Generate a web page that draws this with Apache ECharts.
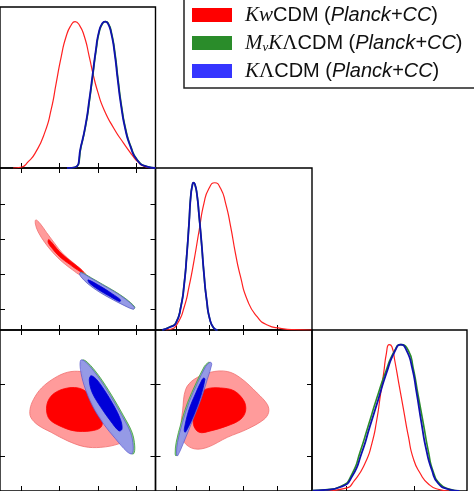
<!DOCTYPE html>
<html>
<head>
<meta charset="utf-8">
<script src="https://cdn.jsdelivr.net/npm/echarts@6/dist/echarts.min.js"></script>
<style>
html, body { margin: 0; padding: 0; background: #fff; }
#chart { width: 474px; height: 491px; }
</style>
</head>
<body>
<div id="chart"></div>
<script>
// model names (legend order)
const models = ['KwCDM', 'MvKLCDM', 'KLCDM'];

// tick values of the three parameters (labels are cropped away in the picture)
const ticksA = [0, 1, 2, 3];
const ticksB = [0, 1, 2, 3];
const ticksC = [0, 1];

// 1D posteriors, parameter A
const redA = [[-0.2, 0], [0, 0.005], [0.2, 0.045], [0.37, 0.10], [0.62, 0.24], [0.79, 0.40], [0.92, 0.58], [1.05, 0.76], [1.18, 0.90], [1.31, 0.977], [1.41, 1.0], [1.52, 0.977], [1.65, 0.90], [1.78, 0.76], [1.88, 0.64], [2.0, 0.52], [2.16, 0.40], [2.42, 0.27], [2.67, 0.17], [2.89, 0.09], [3.05, 0.04], [3.2, 0.012], [3.35, 0.002], [3.5, 0]];
const greenA = [[1.2, 0], [1.42, 0.006], [1.57, 0.15], [1.70, 0.31], [1.79, 0.47], [1.87, 0.63], [1.96, 0.81], [2.04, 0.93], [2.13, 0.99], [2.20, 1.0], [2.27, 0.99], [2.36, 0.92], [2.45, 0.78], [2.53, 0.60], [2.62, 0.42], [2.73, 0.26], [2.86, 0.146], [3.03, 0.055], [3.28, 0.01], [3.5, 0]];
const blueA = [[1.2, 0], [1.41, 0.005], [1.56, 0.146], [1.69, 0.305], [1.78, 0.465], [1.86, 0.624], [1.95, 0.806], [2.03, 0.93], [2.12, 0.989], [2.19, 1.0], [2.26, 0.989], [2.35, 0.92], [2.44, 0.78], [2.52, 0.60], [2.61, 0.42], [2.72, 0.26], [2.85, 0.146], [3.02, 0.055], [3.27, 0.01], [3.5, 0]];

// 1D posteriors, parameter B
const redB = [[-0.3, 0], [-0.15, 0.005], [0.05, 0.045], [0.25, 0.158], [0.39, 0.294], [0.54, 0.475], [0.69, 0.679], [0.83, 0.860], [0.98, 0.962], [1.15, 1.0], [1.32, 0.962], [1.47, 0.860], [1.62, 0.701], [1.76, 0.521], [1.91, 0.362], [2.11, 0.204], [2.40, 0.090], [2.70, 0.034], [3.09, 0.011], [3.48, 0.002], [4.0, 0]];
const greenB = [[-0.4, 0], [-0.15, 0.024], [0, 0.048], [0.15, 0.162], [0.25, 0.322], [0.32, 0.502], [0.39, 0.728], [0.44, 0.907], [0.49, 0.986], [0.52, 1.0], [0.56, 0.99], [0.62, 0.926], [0.69, 0.766], [0.76, 0.586], [0.83, 0.382], [0.91, 0.202], [1.01, 0.067], [1.13, 0.011], [1.23, 0]];
const blueB = [[-0.4, 0], [-0.15, 0.022], [0, 0.045], [0.15, 0.158], [0.25, 0.317], [0.32, 0.498], [0.39, 0.724], [0.44, 0.905], [0.49, 0.985], [0.52, 1.0], [0.56, 0.991], [0.62, 0.928], [0.69, 0.769], [0.76, 0.589], [0.83, 0.385], [0.91, 0.204], [1.01, 0.068], [1.13, 0.011], [1.23, 0]];

// 1D posteriors, parameter C
const redC = [[-0.3, 0], [-0.01, 0.018], [0.13, 0.075], [0.28, 0.189], [0.38, 0.326], [0.45, 0.485], [0.50, 0.644], [0.55, 0.804], [0.59, 0.941], [0.63, 1.0], [0.67, 0.986], [0.71, 0.895], [0.77, 0.736], [0.84, 0.553], [0.91, 0.371], [0.98, 0.223], [1.08, 0.121], [1.20, 0.048], [1.34, 0.012], [1.5, 0]];
const greenC = [[-0.48, 0.003], [-0.30, 0.008], [-0.06, 0.034], [0.09, 0.116], [0.21, 0.269], [0.33, 0.451], [0.45, 0.633], [0.58, 0.815], [0.71, 0.959], [0.80, 1.0], [0.91, 0.959], [0.98, 0.838], [1.05, 0.656], [1.13, 0.451], [1.20, 0.269], [1.27, 0.132], [1.37, 0.048], [1.51, 0.012], [1.65, 0]];
const blueC = [[-0.48, 0.003], [-0.30, 0.007], [-0.06, 0.03], [0.09, 0.098], [0.23, 0.258], [0.35, 0.44], [0.47, 0.622], [0.59, 0.804], [0.71, 0.952], [0.80, 1.0], [0.88, 0.963], [0.96, 0.849], [1.03, 0.667], [1.10, 0.462], [1.17, 0.280], [1.25, 0.143], [1.34, 0.053], [1.49, 0.012], [1.65, 0]];

// 2D contours A-B (outer = 95%, inner = 68%)
const redAB95 = [[0.39, 2.54], [0.50, 2.44], [0.67, 2.18], [0.88, 1.87], [1.09, 1.58], [1.35, 1.33], [1.61, 1.09], [1.69, 0.98], [1.56, 0.96], [1.35, 1.11], [1.09, 1.33], [0.84, 1.60], [0.62, 1.90], [0.45, 2.20], [0.38, 2.42]];
const redAB68 = [[0.73, 1.98], [1.01, 1.63], [1.26, 1.39], [1.52, 1.17], [1.63, 1.04], [1.52, 1.08], [1.26, 1.28], [1.01, 1.49], [0.79, 1.76], [0.71, 1.90]];
const greenAB95 = [[1.57, 1.05], [1.83, 0.89], [2.13, 0.70], [2.43, 0.51], [2.73, 0.29], [2.96, 0.06], [2.93, 0.0], [2.64, 0.14], [2.34, 0.31], [2.04, 0.50], [1.76, 0.72], [1.57, 0.93], [1.54, 1.01]];
const blueAB95 = [[1.56, 1.04], [1.82, 0.88], [2.12, 0.69], [2.42, 0.50], [2.72, 0.28], [2.95, 0.05], [2.92, -0.01], [2.63, 0.13], [2.33, 0.30], [2.03, 0.49], [1.75, 0.71], [1.56, 0.92], [1.53, 1.00]];
const blueAB68 = [[1.75, 0.83], [2.08, 0.64], [2.38, 0.43], [2.59, 0.26], [2.57, 0.21], [2.33, 0.35], [2.03, 0.54], [1.78, 0.74]];

// 2D contours A-C
const redAC95 = [[0.24, 0.65], [0.33, 0.79], [0.54, 0.95], [0.88, 1.09], [1.22, 1.17], [1.56, 1.18], [1.78, 1.14], [1.99, 1.00], [2.25, 0.79], [2.51, 0.56], [2.67, 0.375], [2.72, 0.24], [2.55, 0.17], [2.08, 0.12], [1.65, 0.13], [1.22, 0.21], [0.79, 0.33], [0.45, 0.43], [0.26, 0.54]];
const redAC68 = [[0.67, 0.63], [0.71, 0.77], [0.88, 0.88], [1.22, 0.95], [1.56, 0.94], [1.82, 0.84], [2.03, 0.68], [2.12, 0.51], [2.08, 0.40], [1.82, 0.35], [1.39, 0.35], [1.01, 0.42], [0.75, 0.51]];
const greenAC95 = [[1.60, 1.34], [1.73, 1.31], [2.03, 1.12], [2.37, 0.84], [2.67, 0.56], [2.89, 0.33], [2.96, 0.14], [2.93, 0.03], [2.80, 0.06], [2.50, 0.24], [2.20, 0.44], [1.90, 0.70], [1.69, 0.98], [1.59, 1.21]];
const blueAC95 = [[1.56, 1.34], [1.69, 1.31], [1.99, 1.12], [2.33, 0.84], [2.63, 0.56], [2.85, 0.33], [2.92, 0.14], [2.89, 0.03], [2.76, 0.06], [2.46, 0.24], [2.16, 0.44], [1.86, 0.70], [1.65, 0.98], [1.55, 1.21]];
const blueAC68 = [[1.82, 1.12], [1.95, 1.08], [2.16, 0.93], [2.42, 0.70], [2.59, 0.51], [2.63, 0.375], [2.55, 0.35], [2.33, 0.49], [2.08, 0.68], [1.86, 0.88], [1.78, 1.05]];

// 2D contours B-C
const redBC95 = [[0.20, 0.63], [0.29, 0.93], [0.54, 1.07], [1.03, 1.17], [1.52, 1.18], [1.91, 1.09], [2.40, 0.88], [2.70, 0.72], [2.74, 0.61], [2.60, 0.51], [2.11, 0.375], [1.52, 0.26], [0.93, 0.12], [0.54, 0.10], [0.25, 0.19], [0.15, 0.375]];
const redBC68 = [[0.54, 0.70], [0.64, 0.86], [0.93, 0.94], [1.32, 0.95], [1.72, 0.91], [2.01, 0.77], [2.06, 0.63], [1.91, 0.51], [1.52, 0.42], [1.03, 0.35], [0.69, 0.33], [0.52, 0.44]];
const greenBC95 = [[0.99, 1.31], [1.02, 1.28], [0.89, 1.07], [0.70, 0.79], [0.45, 0.49], [0.21, 0.21], [0.01, 0.00], [-0.02, 0.03], [0.01, 0.19], [0.16, 0.47], [0.35, 0.75], [0.60, 1.02], [0.84, 1.25], [0.94, 1.30]];
const blueBC95 = [[1.03, 1.31], [1.06, 1.28], [0.93, 1.07], [0.74, 0.79], [0.49, 0.49], [0.25, 0.21], [0.05, 0.00], [0.02, 0.03], [0.05, 0.19], [0.20, 0.47], [0.39, 0.75], [0.64, 1.02], [0.88, 1.25], [0.98, 1.30]];
const blueBC68 = [[0.83, 1.09], [0.86, 1.07], [0.74, 0.84], [0.54, 0.58], [0.34, 0.375], [0.27, 0.33], [0.25, 0.375], [0.39, 0.65], [0.59, 0.88], [0.78, 1.07]];

const colors = {
    KwCDM: { line: '#ff2020', light: '#ff9b9b', lightEdge: '#f07070', dark: '#ff0000', swatch: '#ff0000' },
    MvKLCDM: { line: '#2a8c2a', light: '#8fcf8f', lightEdge: '#3c9c3c', dark: '#1f8f1f', swatch: '#2a8c2a' },
    KLCDM: { line: '#1010b0', light: '#9696ee', lightEdge: '#5a5acc', dark: '#0000d8', swatch: '#3535ff' }
};

const ranges = {
    A: [-0.54, 3.5],
    B: [-0.6, 4.02],
    C: [-0.49, 1.76],
    P: [0, 1.1]
};
const ticks = { A: ticksA, B: ticksB, C: ticksC, P: [] };

// panel layout in px
const cols = [{ left: -2, width: 157.5 }, { left: 155.5, width: 156.5 }, { left: 312, width: 155 }];
const rows = [{ top: 7, height: 161 }, { top: 168, height: 162 }, { top: 330, height: 162 }];

const panels = [
    { r: 0, c: 0, x: 'A', y: 'P', lines: [redA, greenA, blueA] },
    { r: 1, c: 0, x: 'A', y: 'B', contours: [[redAB95, redAB68], [greenAB95, null], [blueAB95, blueAB68]] },
    { r: 1, c: 1, x: 'B', y: 'P', lines: [redB, greenB, blueB] },
    { r: 2, c: 0, x: 'A', y: 'C', contours: [[redAC95, redAC68], [greenAC95, null], [blueAC95, blueAC68]] },
    { r: 2, c: 1, x: 'B', y: 'C', contours: [[redBC95, redBC68], [greenBC95, null], [blueBC95, blueBC68]] },
    { r: 2, c: 2, x: 'C', y: 'P', lines: [redC, greenC, blueC] }
];

const grid = [];
const xAxis = [];
const yAxis = [];
const series = [];

function makeAxis(gridIndex, key, position) {
    const tv = ticks[key];
    return {
        type: 'value',
        gridIndex,
        position,
        min: ranges[key][0],
        max: ranges[key][1],
        axisLine: { show: false, onZero: false },
        axisLabel: { show: false },
        splitLine: { show: false },
        axisTick: {
            show: tv.length > 0,
            inside: true,
            length: 5,
            customValues: tv,
            lineStyle: { color: '#000', width: 1 }
        }
    };
}

function polygonSeries(name, pts, xi, yi, fill, stroke, opacity) {
    return {
        name,
        type: 'custom',
        xAxisIndex: xi,
        yAxisIndex: yi,
        silent: true,
        clip: true,
        data: [[pts[0][0], pts[0][1]]],
        renderItem: (params, api) => ({
            type: 'polygon',
            shape: { points: pts.map(p => api.coord(p)), smooth: 0.35 },
            style: { fill, stroke, lineWidth: 0.8, opacity }
        })
    };
}

panels.forEach((p, gi) => {
    grid.push({
        left: cols[p.c].left,
        top: rows[p.r].top,
        width: cols[p.c].width,
        height: rows[p.r].height,
        show: true,
        borderColor: '#000',
        borderWidth: 1.4,
        backgroundColor: 'transparent'
    });
    const xi = xAxis.length;
    const yi = yAxis.length;
    xAxis.push(makeAxis(gi, p.x, 'bottom'));
    yAxis.push(makeAxis(gi, p.y, 'left'));
    if (p.contours) {
        // mirrored ticks on top and right
        xAxis.push(makeAxis(gi, p.x, 'top'));
        yAxis.push(makeAxis(gi, p.y, 'right'));
        p.contours.forEach(([outer, inner], k) => {
            const c = colors[models[k]];
            series.push(polygonSeries(models[k], outer, xi, yi, c.light, c.lightEdge, k === 2 ? 0.92 : 1));
            if (inner) {
                series.push(polygonSeries(models[k], inner, xi, yi, c.dark, c.dark, 1));
            }
        });
    } else {
        p.lines.forEach((pts, k) => {
            const c = colors[models[k]];
            series.push({
                name: models[k],
                type: 'line',
                xAxisIndex: xi,
                yAxisIndex: yi,
                data: pts,
                smooth: 0.6,
                symbol: 'none',
                silent: true,
                lineStyle: { color: c.line, width: k === 0 ? 1.2 : (k === 1 ? 1.6 : 1.8) },
                itemStyle: { color: c.line }
            });
        });
    }
});

const legendText = {
    KwCDM: '{mi|Kw}{s|CDM (}{i|Planck+CC}{s|)}',
    MvKLCDM: '{mi|M}{sub|ν}{mi|K}{mr|Λ}{s|CDM (}{i|Planck+CC}{s|)}',
    KLCDM: '{mi|K}{mr|Λ}{s|CDM (}{i|Planck+CC}{s|)}'
};

const chart = echarts.init(document.getElementById('chart'), null, { renderer: 'canvas' });
chart.setOption({
    animation: false,
    backgroundColor: '#fff',
    grid,
    xAxis,
    yAxis,
    legend: {
        left: 184,
        top: -6,
        orient: 'vertical',
        selectedMode: false,
        itemWidth: 40,
        itemHeight: 14,
        itemGap: 6,
        padding: [10, 40, 6, 8],
        borderColor: '#222',
        borderWidth: 1.5,
        backgroundColor: '#fff',
        data: models.map(m => ({ name: m, icon: 'rect', itemStyle: { color: colors[m].swatch } })),
        formatter: name => legendText[name],
        textStyle: {
            padding: [0, 0, 0, 8],
            rich: {
                mi: { fontFamily: 'Liberation Serif', fontStyle: 'italic', fontSize: 21, color: '#111', height: 22, lineHeight: 22 },
                mr: { fontFamily: 'Liberation Serif', fontSize: 21, color: '#111', height: 22, lineHeight: 22 },
                sub: { fontFamily: 'Liberation Serif', fontStyle: 'italic', fontSize: 13, color: '#111', height: 13, lineHeight: 13, verticalAlign: 'bottom' },
                s: { fontFamily: 'Liberation Sans', fontSize: 20, color: '#111', height: 22, lineHeight: 22 },
                i: { fontFamily: 'Liberation Sans', fontStyle: 'italic', fontSize: 20, color: '#111', height: 22, lineHeight: 22 }
            }
        }
    },
    series
});
</script>
</body>
</html>
